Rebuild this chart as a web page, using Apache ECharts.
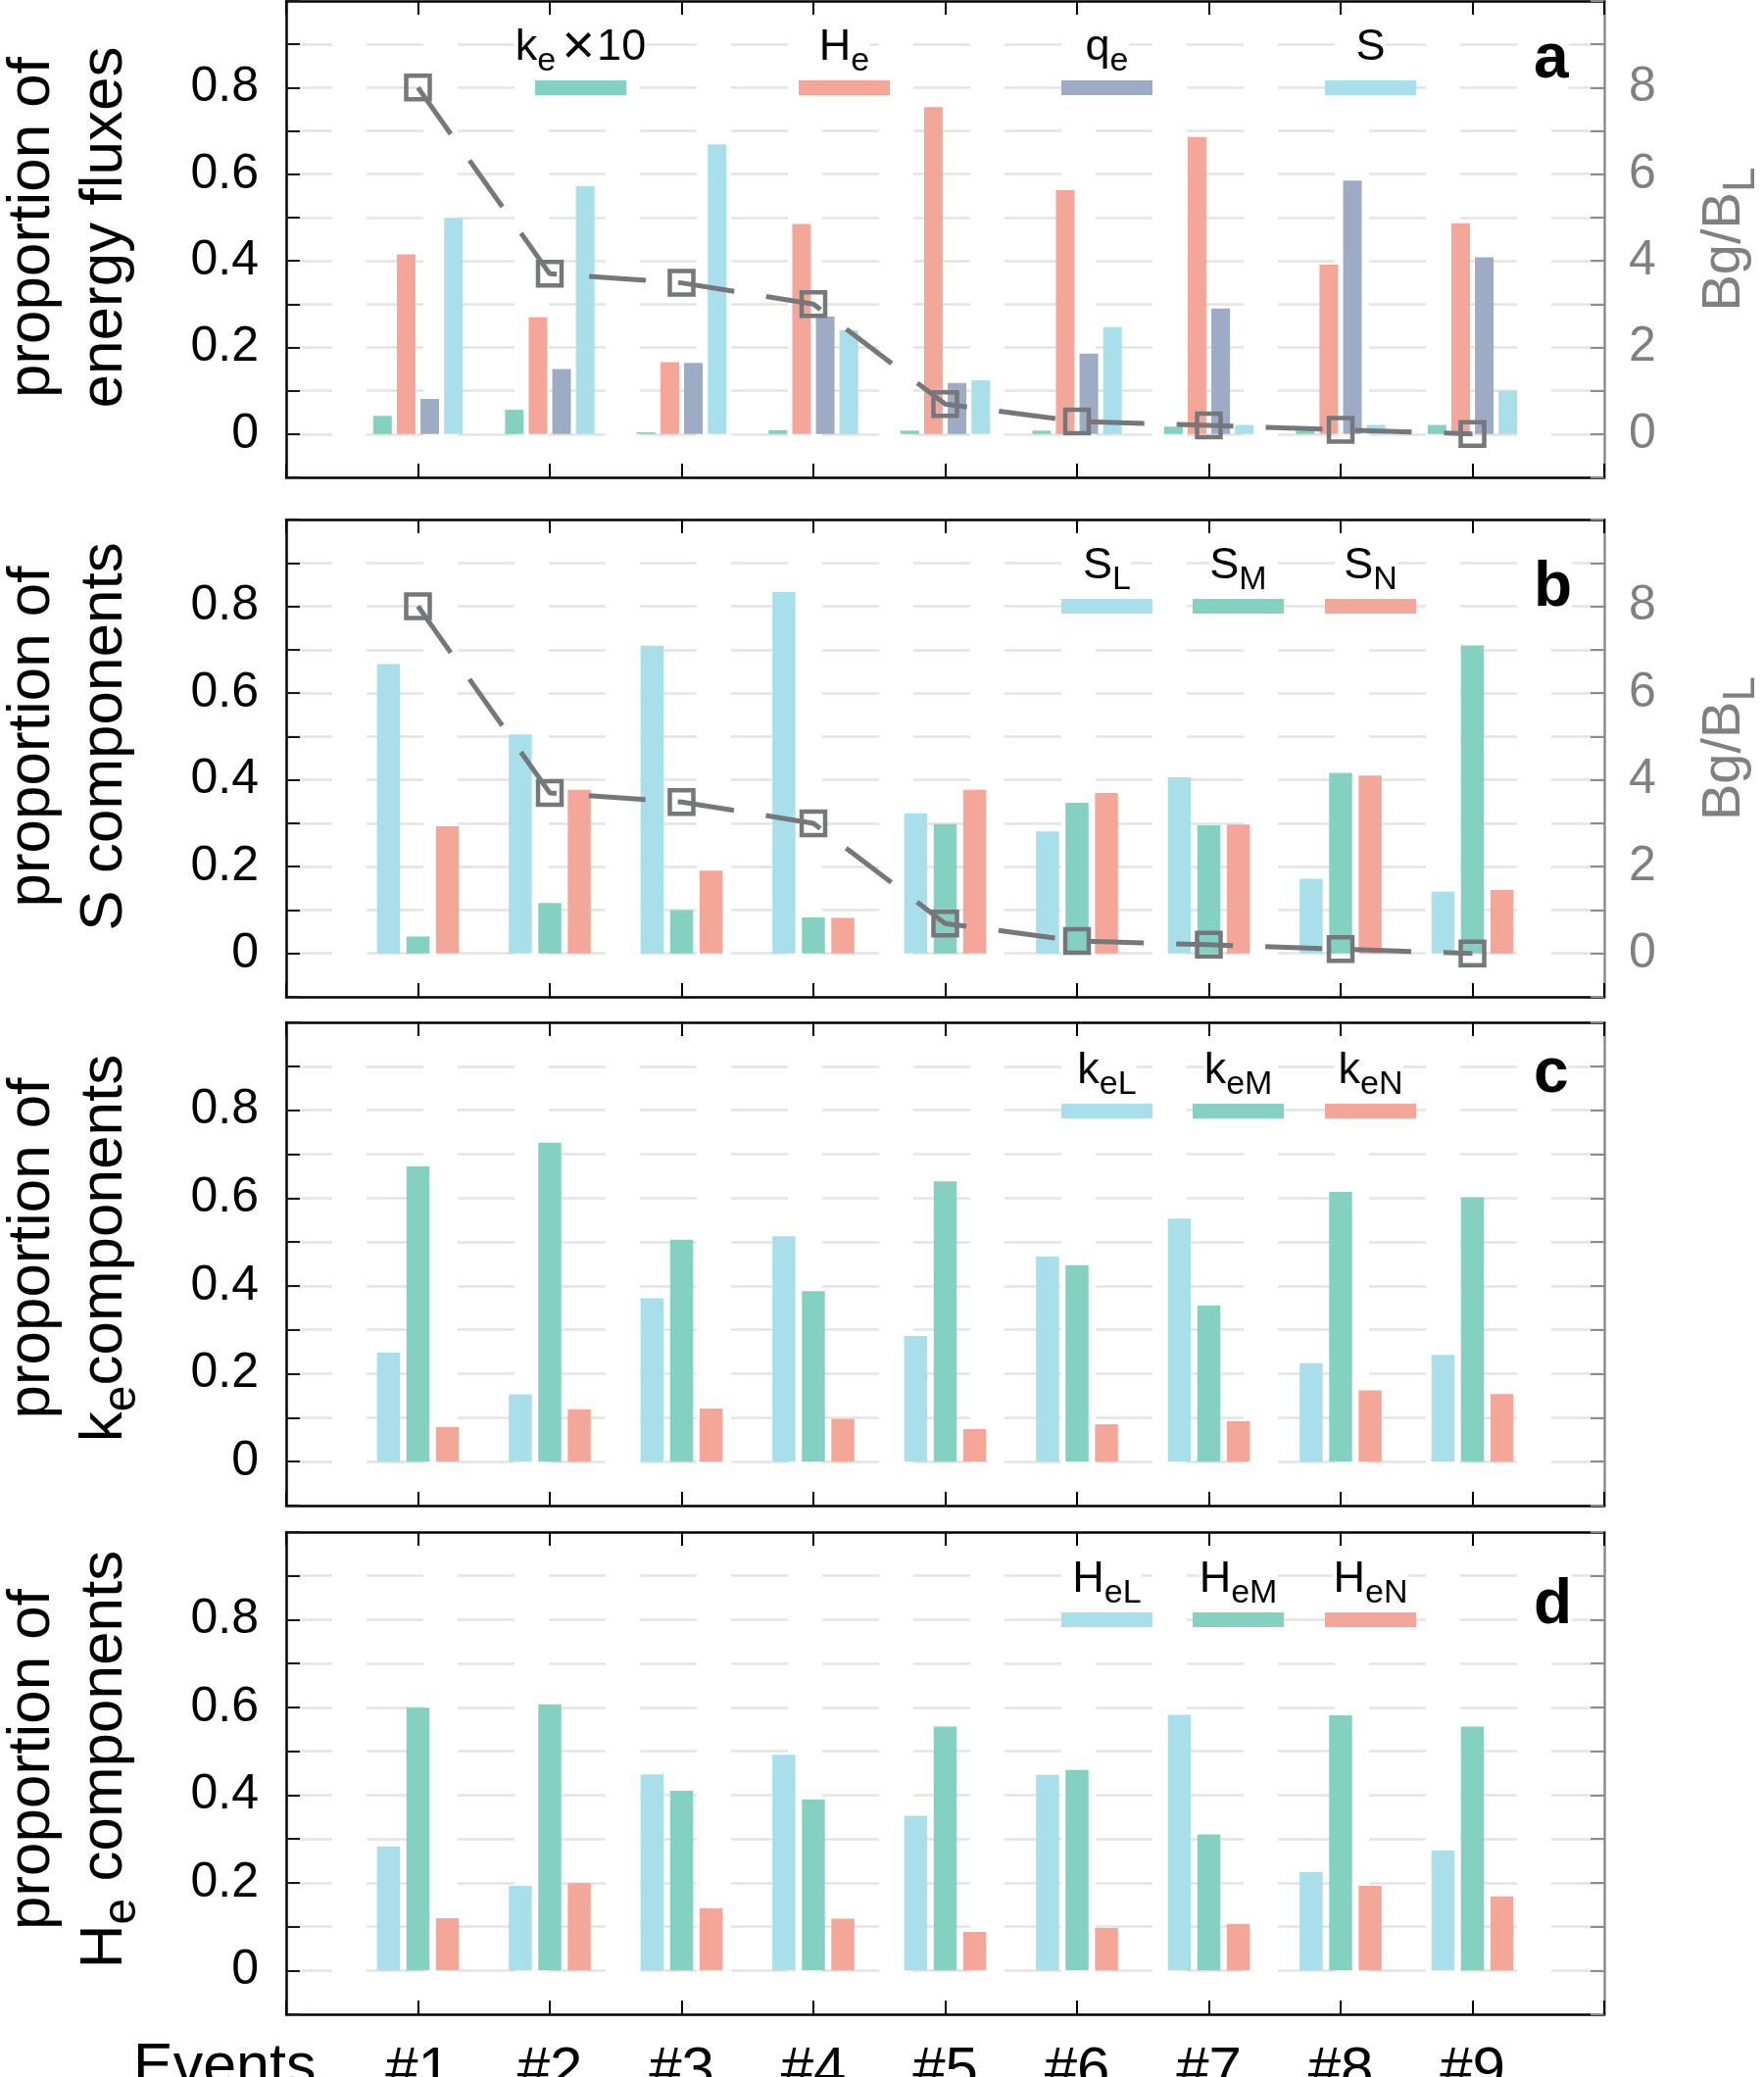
<!DOCTYPE html>
<html>
<head>
<meta charset="utf-8">
<script src="https://cdn.jsdelivr.net/npm/echarts@6/dist/echarts.min.js"></script>
<style>
  html, body { margin: 0; padding: 0; background: #fff; }
  #chart { width: 1800px; height: 2119px; }
</style>
</head>
<body>
<div id="chart"></div>
<script>
const FONT = "'Liberation Sans', Arial, Helvetica, sans-serif";

// categories (an empty slot on each side so #1 and #9 sit one step inside the frame)
const events = ['#1', '#2', '#3', '#4', '#5', '#6', '#7', '#8', '#9'];
const xCats = [''].concat(events, ['']);

// Bg/BL, right axis of panels a and b
const bgRatio = [8.0, 3.70, 3.49, 3.00, 0.69, 0.29, 0.20, 0.10, 0.00];

// panel a: proportion of energy fluxes
const keX10 = [0.042, 0.056, 0.004, 0.009, 0.008, 0.008, 0.017, 0.008, 0.021];
const He = [0.415, 0.270, 0.166, 0.485, 0.755, 0.563, 0.686, 0.391, 0.487];
const qe = [0.081, 0.150, 0.164, 0.271, 0.118, 0.186, 0.290, 0.585, 0.408];
const S = [0.499, 0.572, 0.669, 0.240, 0.124, 0.247, 0.021, 0.021, 0.100];

// panel b: S components
const SL = [0.667, 0.505, 0.709, 0.833, 0.323, 0.281, 0.406, 0.172, 0.142];
const SM = [0.039, 0.116, 0.100, 0.083, 0.298, 0.347, 0.295, 0.416, 0.710];
const SN = [0.293, 0.377, 0.191, 0.082, 0.377, 0.370, 0.297, 0.410, 0.146];

// panel c: ke components
const keL = [0.248, 0.153, 0.372, 0.513, 0.286, 0.467, 0.553, 0.224, 0.243];
const keM = [0.672, 0.726, 0.505, 0.388, 0.638, 0.447, 0.355, 0.614, 0.602];
const keN = [0.079, 0.119, 0.121, 0.097, 0.074, 0.085, 0.092, 0.162, 0.154];

// panel d: He components
const HeL = [0.283, 0.193, 0.447, 0.492, 0.353, 0.446, 0.583, 0.224, 0.274];
const HeM = [0.599, 0.607, 0.410, 0.390, 0.556, 0.457, 0.310, 0.582, 0.556];
const HeN = [0.119, 0.199, 0.142, 0.118, 0.088, 0.097, 0.106, 0.193, 0.169];

// tick labels
const leftTicks = [0, 0.2, 0.4, 0.6, 0.8];
const rightTicks = [0, 2, 4, 6, 8];

const GREEN = '#84d1c2';
const SALMON = '#f4a799';
const SLATE = '#9eabc5';
const SKY = '#a8dfeb';
const GREY = '#76777b';

const pad = arr => ['-'].concat(arr, ['-']);

const panels = [
  {
    top: 1, height: 486, letter: 'a', letterBase: 83, line: true,
    barWidth: 19, barGap: '27%',
    bars: [
      { name: 'ke×10', label: '{n|k}{s|e}{x|×}{n|10}', data: keX10, color: GREEN },
      { name: 'He', label: '{n|H}{s|e}', data: He, color: SALMON },
      { name: 'qe', label: '{n|q}{s|e}', data: qe, color: SLATE },
      { name: 'S', label: '{n|S}', data: S, color: SKY }
    ],
    legendLeft: [546, 815, 1083, 1352], legendTop: 82,
    yName: '{n|proportion of}\n{n|energy fluxes}', yShift: 12, rShift: 0
  },
  {
    top: 530, height: 487, letter: 'b', letterBase: 622, line: true,
    barWidth: 23.5, barGap: '28%',
    bars: [
      { name: 'SL', label: '{n|S}{s|L}', data: SL, color: SKY },
      { name: 'SM', label: '{n|S}{s|M}', data: SM, color: GREEN },
      { name: 'SN', label: '{n|S}{s|N}', data: SN, color: SALMON }
    ],
    legendLeft: [1083, 1217, 1352], legendTop: 611,
    yName: '{n|proportion of}\n{n|S components}', yShift: 22, rShift: 10
  },
  {
    top: 1043, height: 493, letter: 'c', letterBase: 1118, line: false,
    barWidth: 23.5, barGap: '28%',
    bars: [
      { name: 'keL', label: '{n|k}{s|eL}', data: keL, color: SKY },
      { name: 'keM', label: '{n|k}{s|eM}', data: keM, color: GREEN },
      { name: 'keN', label: '{n|k}{s|eN}', data: keN, color: SALMON }
    ],
    legendLeft: [1083, 1217, 1352], legendTop: 1126,
    yName: '{n|proportion of}\n{n|k}{s|e}{n|components}', yShift: 16, rShift: 0
  },
  {
    top: 1563, height: 492, letter: 'd', letterBase: 1660, line: false,
    barWidth: 23.5, barGap: '28%',
    bars: [
      { name: 'HeL', label: '{n|H}{s|eL}', data: HeL, color: SKY },
      { name: 'HeM', label: '{n|H}{s|eM}', data: HeM, color: GREEN },
      { name: 'HeN', label: '{n|H}{s|eN}', data: HeN, color: SALMON }
    ],
    legendLeft: [1083, 1217, 1352], legendTop: 1645,
    yName: '{n|proportion of}\n{n|H}{s|e}{n| components}', yShift: 14, rShift: 0
  }
];

const legendRich = {
  n: { fontSize: 45, lineHeight: 52, fontFamily: FONT, fill: '#000' },
  s: { fontSize: 34, lineHeight: 20, padding: [28, 0, 0, 0], fontFamily: FONT, fill: '#000' },
  x: { fontSize: 58, lineHeight: 52, padding: [0, 2, 0, 6], fontFamily: FONT, fill: '#000' }
};

const option = {
  animation: false,
  backgroundColor: '#ffffff',
  grid: [], xAxis: [], yAxis: [], series: [], legend: [], graphic: []
};

panels.forEach((p, i) => {
  option.grid.push({
    left: 292, width: 1345, top: p.top, height: p.height,
    containLabel: false, outerBoundsMode: 'none'
  });

  ['bottom', 'top'].forEach(pos => {
    option.xAxis.push({
      type: 'category',
      gridIndex: i,
      position: pos,
      data: xCats,
      boundaryGap: false,
      axisLine: { onZero: false, lineStyle: { color: '#000', width: 2.5 } },
      axisTick: { inside: true, length: 14, lineStyle: { color: '#000', width: 2 } },
      axisLabel: {
        show: pos === 'bottom' && i === 3,
        fontSize: 60, fontFamily: FONT, color: '#000', margin: 28
      },
      splitLine: { show: false }
    });
  });

  option.yAxis.push({
    type: 'value',
    gridIndex: i,
    position: 'left',
    min: -0.1, max: 1.0, interval: 0.1,
    name: p.yName,
    nameLocation: 'middle',
    nameRotate: 90,
    nameGap: 148,
    nameTextStyle: {
      padding: [0, 0, 0, p.yShift * 2],
      rich: {
        n: { fontSize: 62, lineHeight: 74, fontFamily: FONT, color: '#000' },
        s: { fontSize: 48, lineHeight: 30, padding: [36, 0, 0, 0], fontFamily: FONT, color: '#000' }
      }
    },
    axisLine: { show: true, onZero: false, lineStyle: { color: '#000', width: 2.5 } },
    axisTick: { show: true, inside: true, length: 14, lineStyle: { color: '#1a1a1a', width: 2 } },
    axisLabel: {
      fontSize: 50, fontFamily: FONT, color: '#000', margin: 28,
      formatter: v => {
        const r = Math.round(v * 10) / 10;
        return leftTicks.includes(r) ? (r === 0 ? '0' : r.toFixed(1)) : '';
      }
    },
    splitLine: {
      show: true, showMinLine: false, showMaxLine: false,
      lineStyle: { color: '#e4e4e4', width: 2.5, type: [58, 35], dashOffset: 11 }
    }
  });

  option.yAxis.push({
    type: 'value',
    gridIndex: i,
    position: 'right',
    min: -1, max: 10, interval: 1,
    name: p.line ? '{n|Bg/B}{s|L}' : '',
    nameLocation: 'middle',
    nameRotate: 90,
    nameGap: 92,
    nameTextStyle: {
      padding: [0, 0, 0, p.rShift * 2],
      rich: {
        n: { fontSize: 56, lineHeight: 62, fontFamily: FONT, color: '#808080' },
        s: { fontSize: 46, lineHeight: 26, padding: [34, 0, 0, 0], fontFamily: FONT, color: '#808080' }
      }
    },
    axisLine: { show: true, onZero: false, lineStyle: { color: '#8c8c8c', width: 2.5 } },
    axisTick: { show: true, inside: true, length: 14, lineStyle: { color: '#8c8c8c', width: 2 } },
    axisLabel: {
      show: p.line,
      fontSize: 50, fontFamily: FONT, color: '#808080', margin: 25,
      formatter: v => (rightTicks.includes(Math.round(v)) ? String(Math.round(v)) : '')
    },
    splitLine: { show: false }
  });

  p.bars.forEach((b, k) => {
    option.series.push({
      type: 'bar',
      name: b.name,
      xAxisIndex: 2 * i,
      yAxisIndex: 2 * i,
      data: pad(b.data),
      barWidth: p.barWidth,
      barGap: p.barGap,
      itemStyle: { color: b.color },
      z: 2
    });

    option.legend.push({
      left: p.legendLeft[k],
      top: p.legendTop,
      padding: 0,
      itemGap: 0,
      icon: 'rect',
      itemWidth: 93,
      itemHeight: 15,
      selectedMode: false,
      data: [b.name],
      formatter: () => '',
      textStyle: { fontSize: 1 }
    });

    // legend caption sits above its swatch, on a white box like the original
    option.graphic.push({
      type: 'text',
      x: p.legendLeft[k] + 46.5,
      y: p.legendTop - 33,
      z: 10,
      style: {
        text: b.label,
        rich: legendRich,
        align: 'center',
        verticalAlign: 'middle',
        backgroundColor: '#ffffff'
      }
    });
  });

  if (p.line) {
    option.series.push({
      type: 'line',
      name: 'Bg/BL',
      xAxisIndex: 2 * i,
      yAxisIndex: 2 * i + 1,
      data: pad(bgRatio),
      symbol: 'rect',
      symbolSize: 24,
      itemStyle: { color: 'rgba(0,0,0,0)', borderColor: GREY, borderWidth: 4.5 },
      lineStyle: { color: GREY, width: 5, type: [58, 33] },
      z: 5
    });
  }

  option.graphic.push({
    type: 'text',
    x: 1565,
    y: p.letterBase - 22,
    z: 10,
    style: {
      text: p.letter,
      fontSize: 64,
      fontWeight: 'bold',
      fontFamily: FONT,
      fill: '#000',
      align: 'left',
      verticalAlign: 'middle',
      backgroundColor: '#ffffff'
    }
  });
});

option.graphic.push({
  type: 'text',
  x: 136,
  y: 2110,
  style: {
    text: 'Events',
    fontSize: 61,
    fontFamily: FONT,
    fill: '#000',
    align: 'left',
    verticalAlign: 'middle'
  }
});

const chart = echarts.init(document.getElementById('chart'), null, { renderer: 'canvas' });
chart.setOption(option);
</script>
</body>
</html>
